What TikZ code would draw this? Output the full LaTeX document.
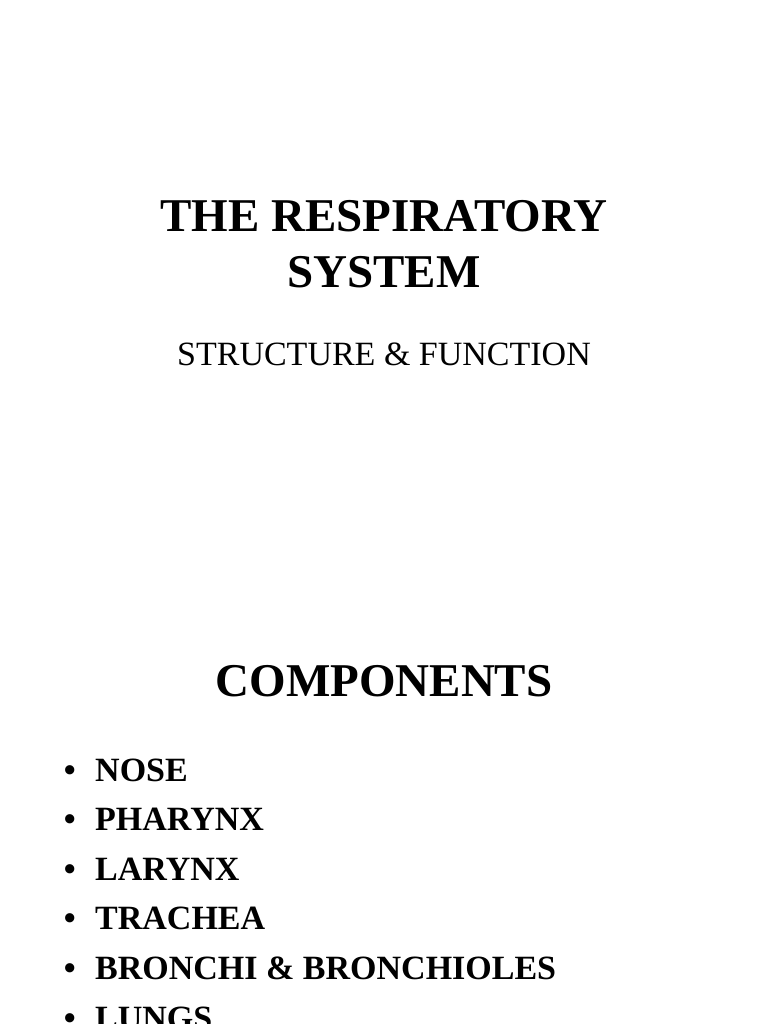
\documentclass[tikz,border=0pt]{standalone}
\usepackage{fontspec}
\setmainfont{Liberation Serif}
\begin{document}
\begin{tikzpicture}[x=1pt,y=-1pt,
  t/.style={anchor=base,inner sep=0pt,text depth=0pt},
  item/.style={anchor=base west,inner sep=0pt,font=\fontsize{34}{38}\selectfont\bfseries}]
\useasboundingbox (0,0) rectangle (768,1024);
\clip (0,0) rectangle (768,1024);
\node[t,font=\fontsize{47}{52}\selectfont\bfseries] (t1) at (384,232) {THE RESPIRATORY};
\node[t,font=\fontsize{47}{52}\selectfont\bfseries] (t2) at (384,287) {SYSTEM};
\node[t,font=\fontsize{34}{38}\selectfont] (sub) at (384,365) {STRUCTURE \& FUNCTION};
\node[t,font=\fontsize{47}{52}\selectfont\bfseries] (comp) at (384,696) {COMPONENTS};
\foreach \txt [count=\i] in {NOSE,PHARYNX,LARYNX,TRACHEA,BRONCHI \& BRONCHIOLES,LUNGS}{
  \node[item,anchor=base east] (d\i) at (76,{781+49.6*(\i-1)}) {\textbullet};
  \node[item] (b\i) at (95,{781+49.6*(\i-1)}) {\txt};
}
\end{tikzpicture}
\end{document}
